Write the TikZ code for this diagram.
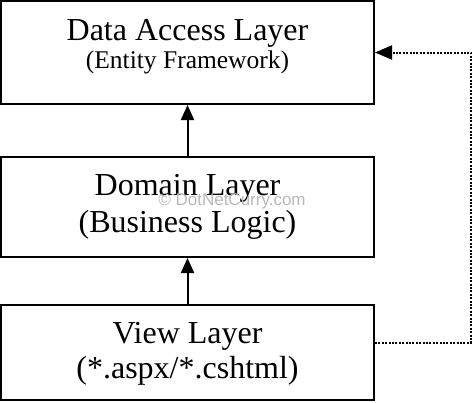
\documentclass[tikz,border=0pt]{standalone}
\usepackage{fontspec}
\setmainfont{Liberation Serif}
\newfontfamily\markfont{Liberation Sans}
\usetikzlibrary{arrows.meta}

\begin{document}
\begin{tikzpicture}[x=1pt,y=-1pt,
    layer/.style={draw,line width=2pt,minimum width=373pt,inner sep=0pt},
    title/.style={font=\fontsize{32}{32}\selectfont,anchor=base,inner sep=0pt},
    subtitle/.style={font=\fontsize{25.5}{25.5}\selectfont,anchor=base,inner sep=0pt},
    uses/.style={line width=2pt,-{Triangle[width=13pt,length=15pt]}},
    link/.style={line width=2pt,dash pattern=on 2pt off 1.4pt,-{Triangle[width=14pt,length=17pt]}}]

    % Fix the picture size
    \useasboundingbox (0,0) rectangle (474,402);

    % Draw the three layers
    \node[layer,minimum height=103pt] (dal) at (187.5,52.5) {};
    \node[layer,minimum height=100pt] (domain) at (187.5,207) {};
    \node[layer,minimum height=95pt] (view) at (187.5,352.5) {};

    % Layer names
    \node[title] (daltitle) at (187.5,40) {Data Access Layer};
    \node[subtitle] (dalsub) at (187.5,68) {(Entity Framework)};
    \node[title] (domaintitle) at (187.5,195) {Domain Layer};
    \node[title] (domainsub) at (187.5,232) {(Business Logic)};
    \node[title] (viewtitle) at (187.5,343) {View Layer};
    \node[title] (viewsub) at (187.5,378) {(*.aspx/*.cshtml)};

    % Arrows between layers
    \draw[uses] (domain.north) -- (dal.south);
    \draw[uses] (view.north) -- (domain.south);

    % Dotted link from the view straight to data access
    \draw[link] ([yshift=10pt]view.east) -- ++(96,0) |- (dal.east);

    % Watermark
    \node[font=\markfont\fontsize{17}{17}\selectfont,text=gray!55,anchor=base,inner sep=0pt] (mark) at (232,205) {© DotNetCurry.com};

\end{tikzpicture}
\end{document}
